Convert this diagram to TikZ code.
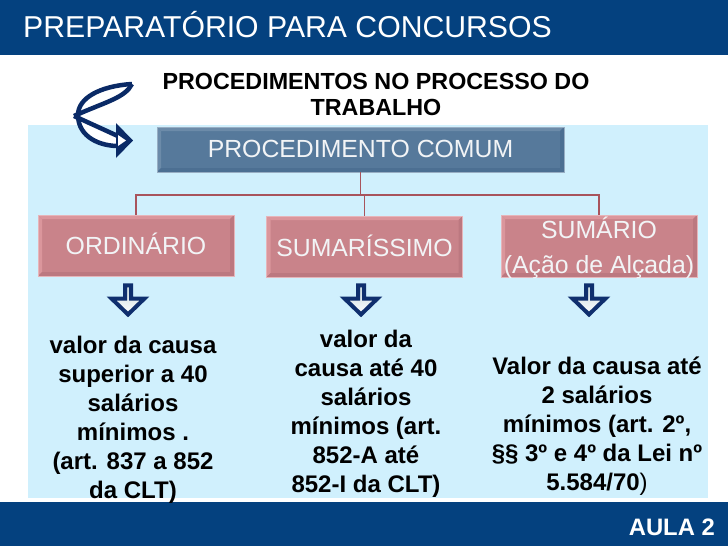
\documentclass[tikz,border=0pt]{standalone}
\usepackage{fontspec}
\setmainfont{Liberation Sans}
\usetikzlibrary{shapes.arrows}
\definecolor{navyband}{HTML}{04417F}
\definecolor{darknavy}{HTML}{0A2A66}
\definecolor{arrowblue}{HTML}{0F2F6E}
\definecolor{arrowtop}{HTML}{C6D8DD}
\definecolor{panelblue}{HTML}{D0F0FD}
\definecolor{slateblue}{HTML}{56799B}
\definecolor{slatelight}{HTML}{6C8BA9}
\definecolor{slatedark}{HTML}{4C6F92}
\definecolor{rosebox}{HTML}{C9838A}
\definecolor{roselight}{HTML}{DB969C}
\definecolor{rosedark}{HTML}{BC7880}
\definecolor{trunkred}{HTML}{A8545C}
\definecolor{boxtext}{HTML}{F2F4F6}
\newcommand{\bevelfill}[2]{%
    \fill[#1] (path picture bounding box.north west) -- (path picture bounding box.north east)
        -- ([xshift=-4pt,yshift=-4pt]path picture bounding box.north east) -- ([xshift=4pt,yshift=-4pt]path picture bounding box.north west) -- cycle;
    \fill[#1] (path picture bounding box.north west) -- (path picture bounding box.south west)
        -- ([xshift=4pt,yshift=4pt]path picture bounding box.south west) -- ([xshift=4pt,yshift=-4pt]path picture bounding box.north west) -- cycle;
    \fill[#2] (path picture bounding box.south west) -- (path picture bounding box.south east)
        -- ([xshift=-4pt,yshift=4pt]path picture bounding box.south east) -- ([xshift=4pt,yshift=4pt]path picture bounding box.south west) -- cycle;
    \fill[#2] (path picture bounding box.north east) -- (path picture bounding box.south east)
        -- ([xshift=-4pt,yshift=4pt]path picture bounding box.south east) -- ([xshift=-4pt,yshift=-4pt]path picture bounding box.north east) -- cycle;}
\tikzset{
    rosecard/.style={draw=roselight!70!white,line width=.8pt,fill=rosebox,text=boxtext,inner sep=0,align=center,
        minimum width=196pt,minimum height=61pt,font=\fontsize{24.8}{35}\selectfont,
        path picture={\bevelfill{roselight}{rosedark}}},
    slatecard/.style={draw=slatelight!70!white,line width=.8pt,fill=slateblue,text=boxtext,inner sep=0,
        minimum width=407pt,minimum height=45pt,font=\fontsize{24.8}{27}\selectfont,
        path picture={\bevelfill{slatelight}{slatedark}}},
    cardtext/.style={text=boxtext,inner sep=0,align=center,font=\fontsize{24.8}{35}\selectfont},
    bodytext/.style={inner sep=0,align=center,text=black,font=\fontsize{24}{29}\selectfont\bfseries},
    downarrow/.style={shape=single arrow,shape border rotate=270,draw=arrowblue,line width=4pt,inner sep=0,
        minimum height=29pt,minimum width=33pt,single arrow head extend=9pt,single arrow tip angle=92,
        top color=arrowtop,bottom color=white},
    trunk/.style={draw=trunkred,line width=1.6pt},
    backarrow/.style={draw=darknavy,line width=4.5pt}
}
\begin{document}
\begin{tikzpicture}[x=1pt,y=-1pt]
    \useasboundingbox (0,0) rectangle (728,546);
    % bands and panel
    \fill[navyband] (0,0) rectangle (728,55);
    \fill[navyband] (0,502) rectangle (728,546);
    \fill[panelblue] (28,125) rectangle (708,498);
    \node[inner sep=0,anchor=base west,text=white,font=\fontsize{30.2}{34}\selectfont] (header) at (23,37) {PREPARATÓRIO PARA CONCURSOS};
    \node[inner sep=0,anchor=base east,text=white,font=\fontsize{23.8}{28}\selectfont\bfseries] (aula) at (715,535) {AULA 2};
    \node[inner sep=0,align=center,text=black,font=\fontsize{23.3}{26}\selectfont\bfseries] (title) at (376,94) {PROCEDIMENTOS NO PROCESSO DO\\TRABALHO};
    % boxes
    \node[slatecard,text depth=2pt] (comum) at (360.5,149.5) {PROCEDIMENTO COMUM};
    \node[rosecard,text depth=4pt] (ordinario) at (136,245.5) {ORDINÁRIO};
    \node[rosecard,text depth=2pt] (sumarissimo) at (364.5,246.5) {SUMARÍSSIMO};
    \node[rosecard,minimum height=62pt] (sumario) at (599,246) {};
    \node[cardtext] (sumariotext) at (599,248) {SUMÁRIO\\(Ação de Alçada)};
    \coordinate (fork) at (360.5,195);
    \draw[trunk] (comum.south) -- (fork);
    \draw[trunk] (fork) -| (ordinario.north);
    \draw[trunk] (fork) -| (sumarissimo.north);
    \draw[trunk] (fork) -| (sumario.north);
    % block arrows
    \node[downarrow] (arrowa) at (128,298.5) {};
    \node[downarrow] (arrowb) at (361,298.5) {};
    \node[downarrow] (arrowc) at (589,298.5) {};
    % column texts
    \node[bodytext] (texta) at (133,420) {valor da causa\\superior a 40\\salários\\mínimos .\\(art. 837 a 852\\da CLT)};
    \node[bodytext] (textb) at (366,414) {valor da\\causa até 40\\salários\\mínimos (art.\\852-A até\\852-I da CLT)};
    \node[bodytext] (textc) at (597,426) {Valor da causa até\\2 salários\\mínimos (art. 2º,\\§§ 3º e 4º da Lei nº\\5.584/70{\mdseries)}};
    % back arrow
    \coordinate (leaftip) at (132,84);
    \coordinate (hub) at (74,116);
    \coordinate (headtip) at (133,140.5);
    \fill[white] (leaftip) .. controls (100,86) and (78,98) .. (78,115) -- (hub) .. controls (100,108) and (122,100) .. (leaftip);
    \fill[white] (hub) -- (120,137) -- (120,146) .. controls (100,146) and (80,140) .. (78,118) -- cycle;
    \draw[backarrow] (leaftip) .. controls (100,86) and (78,98) .. (78,115)
        .. controls (78,137) and (100,147) .. (122,146);
    \draw[backarrow] (leaftip) .. controls (125,98) and (105,102) .. (hub);
    \draw[backarrow] (hub) -- (120,137);
    \fill[darknavy] (116,123) -- (headtip) -- (116,158) -- cycle;
    \fill[white] (118,135) -- (126,140.5) -- (118,146) -- cycle;
\end{tikzpicture}
\end{document}
